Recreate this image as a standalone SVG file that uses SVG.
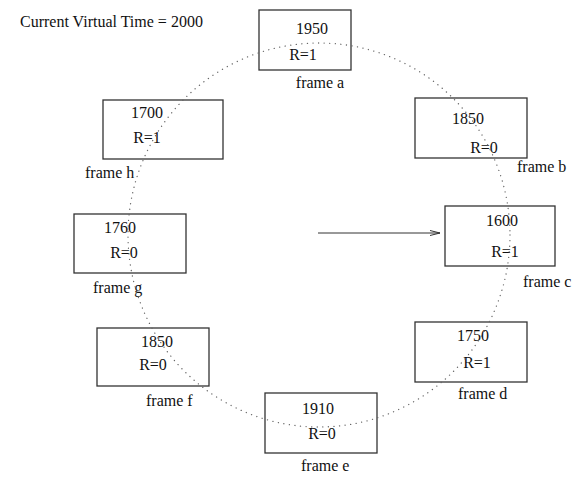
<svg xmlns="http://www.w3.org/2000/svg" width="578" height="484" viewBox="0 0 578 484">
<defs>
<style>
.box{fill:#fff;stroke:#333;stroke-width:1.3}
.t{font-family:"Liberation Serif","Times New Roman",serif;font-size:16px;fill:#111}
.m{text-anchor:middle}
.ring{fill:none;stroke:#666;stroke-width:1.3;stroke-dasharray:0.1 5.5;stroke-linecap:round}
.conn{fill:none;stroke:#333;stroke-width:1}
</style>
<marker id="arr" viewBox="0 0 10 10" refX="10" refY="5" markerWidth="10" markerHeight="10" markerUnits="userSpaceOnUse" orient="auto">
<path d="M0,2.5 L10,5 L0,7.5" fill="none" stroke="#333" stroke-width="1"/>
</marker>
</defs>
<rect width="578" height="484" fill="#fff"/>
<text class="t" x="20" y="27">Current Virtual Time = 2000</text>
<g id="frame-a"><rect class="box" x="259" y="10" width="92" height="60"/><text class="t m" x="312" y="34">1950</text><text class="t m" x="303" y="60">R=1</text><text class="t m" x="320" y="88">frame a</text></g>
<g id="frame-b"><rect class="box" x="415" y="98" width="112" height="60"/><text class="t m" x="468" y="124">1850</text><text class="t m" x="484" y="153">R=0</text><text class="t" x="517" y="172">frame b</text></g>
<g id="frame-c"><rect class="box" x="445" y="206" width="110" height="60"/><text class="t m" x="502" y="226">1600</text><text class="t m" x="505" y="257">R=1</text><text class="t" x="523" y="287">frame c</text></g>
<g id="frame-d"><rect class="box" x="415" y="322" width="112" height="60"/><text class="t m" x="473" y="341">1750</text><text class="t m" x="477" y="368">R=1</text><text class="t" x="458" y="399">frame d</text></g>
<g id="frame-e"><rect class="box" x="265" y="393" width="112" height="60"/><text class="t m" x="318" y="414">1910</text><text class="t m" x="322" y="439">R=0</text><text class="t" x="301" y="471">frame e</text></g>
<g id="frame-f"><rect class="box" x="97" y="328" width="112" height="58"/><text class="t m" x="157" y="347">1850</text><text class="t m" x="153" y="370">R=0</text><text class="t" x="146" y="406">frame f</text></g>
<g id="frame-g"><rect class="box" x="74" y="214" width="112" height="59"/><text class="t m" x="120" y="233">1760</text><text class="t m" x="124" y="258">R=0</text><text class="t" x="93" y="293">frame g</text></g>
<g id="frame-h"><rect class="box" x="103" y="100" width="120" height="59"/><text class="t m" x="147" y="118">1700</text><text class="t m" x="147" y="143">R=1</text><text class="t" x="85" y="178">frame h</text></g>
<g id="connectors">
<ellipse class="ring" cx="319" cy="235" rx="191" ry="192"/>
<line class="conn" x1="318" y1="233" x2="440" y2="233" marker-end="url(#arr)"/>
</g>
</svg>
